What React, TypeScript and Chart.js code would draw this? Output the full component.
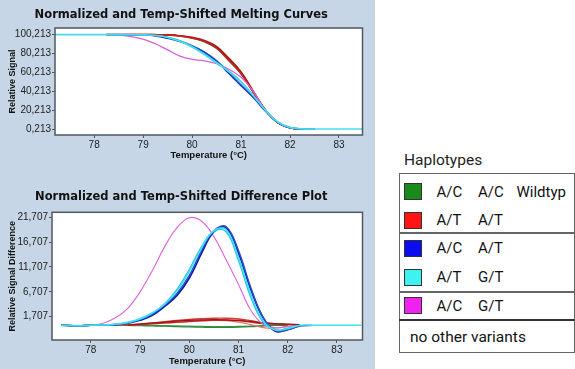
import React, { useEffect, useRef } from 'react';
import { Chart, registerables } from 'chart.js';
Chart.register(...registerables);

// ---------- Melting curves (top) ----------
const meltTemps = [77.2, 77.6, 78.0, 78.25, 78.5, 78.75, 79.0, 79.25, 79.5, 79.75, 80.0, 80.25, 80.5, 80.75, 81.0, 81.25, 81.5, 81.75, 82.0, 82.25, 82.5, 83.0, 83.5];
const meltGreen1 = [null, null, null, 100.2, 100.2, 100.2, 100.2, 100.0, 99.6, 98.6, 96.4, 92.6, 85.5, 72.5, 58.5, 38.8, 19.8, 6.8, 1.5, 0.4, 0.25, null, null];
const meltGreen2 = [null, null, null, null, 100.2, 100.3, 100.3, 100.1, 99.7, 98.8, 96.8, 93.2, 86.4, 73.6, 59.5, 39.6, 20.2, 7.0, 1.5, 0.4, 0.25, null, null];
const meltRed1 = [null, null, null, 100.2, 100.2, 100.3, 100.3, 100.1, 99.8, 98.8, 96.6, 93.0, 86.0, 73.0, 59.0, 39.0, 20.0, 7.0, 1.5, 0.4, 0.25, null, null];
const meltRed2 = [null, null, null, null, null, 100.2, 100.3, 100.3, 100.0, 99.2, 97.4, 94.2, 87.8, 75.5, 61.0, 40.5, 20.5, 7.0, 1.4, 0.4, 0.25, null, null];
const meltDarkRed = [null, null, null, 100.2, 100.3, 100.4, 100.3, 100.2, 99.9, 99.0, 97.0, 93.6, 87.0, 74.5, 60.0, 40.0, 20.2, 7.0, 1.5, 0.4, 0.25, null, null];
const meltBlue1 = [null, null, null, 100.2, 100.2, 100.1, 99.8, 98.8, 96.2, 92.8, 88.0, 81.5, 72.0, 59.0, 46.0, 33.5, 19.0, 7.0, 1.5, 0.4, 0.25, null, null];
const meltBlue2 = [null, null, null, 100.2, 100.2, 100.2, 100.0, 99.2, 97.0, 93.5, 88.6, 82.0, 72.8, 60.2, 47.2, 34.2, 19.4, 7.2, 1.6, 0.4, 0.25, null, null];
const meltCyan1 = [100.2, 100.2, 100.2, 100.2, 100.2, 100.1, 99.9, 99.2, 97.2, 93.2, 87.0, 79.0, 70.0, 61.0, 50.0, 35.5, 20.0, 7.5, 1.8, 0.5, 0.25, 0.213, 0.213];
const meltCyan2 = [null, null, null, 100.2, 100.2, 100.2, 100.0, 99.4, 97.6, 93.8, 87.8, 79.8, 70.8, 61.6, 50.4, 35.8, 20.2, 7.5, 1.8, 0.5, 0.25, null, null];
const meltMagenta = [null, null, null, 100.2, 99.6, 98.0, 95.5, 90.5, 84.0, 77.5, 74.0, 72.5, 69.5, 63.5, 55.0, 40.0, 20.0, 7.5, 1.8, 0.5, 0.25, null, null];
const meltYTicks = [0.213, 20.213, 40.213, 60.213, 80.213, 100.213];
const meltYLabels = ['0,213', '20,213', '40,213', '60,213', '80,213', '100,213'];

// ---------- Difference plot (bottom) ----------
const diffTemps = [77.4, 77.75, 78.0, 78.25, 78.5, 78.75, 79.0, 79.25, 79.5, 79.75, 80.0, 80.25, 80.5, 80.75, 81.0, 81.25, 81.5, 81.75, 82.0, 82.25, 82.5, 83.0, 83.5];
const diffGreen1 = [0, -0.1, 0, 0, 0, -0.05, -0.1, -0.15, -0.2, -0.3, -0.35, -0.4, -0.45, -0.45, -0.4, -0.3, -0.15, -0.05, 0, null, null, null, null];
const diffGreen2 = [null, null, null, null, null, 0, 0.0, -0.05, -0.1, -0.15, -0.2, -0.25, -0.3, -0.3, -0.25, -0.2, -0.1, 0, 0, null, null, null, null];
const diffRed1 = [0, -0.1, 0, 0, 0, 0.1, 0.25, 0.45, 0.7, 0.95, 1.15, 1.3, 1.4, 1.4, 1.25, 0.9, 0.5, 0.3, 0.15, 0, null, null, null];
const diffRed2 = [null, null, null, null, null, 0, 0.15, 0.3, 0.45, 0.6, 0.75, 0.9, 1.0, 1.0, 0.9, 0.6, 0.3, 0.2, 0.1, 0.05, null, null, null];
const diffRed3 = [null, null, null, null, null, 0, 0.1, 0.25, 0.4, 0.55, 0.7, 0.85, 0.95, 0.9, 0.6, 0.1, -0.5, -0.6, -0.2, null, null, null, null];
const diffDarkRed = [null, null, null, null, null, 0, 0.2, 0.4, 0.6, 0.8, 0.95, 1.05, 1.1, 1.05, 0.95, 0.7, 0.45, 0.3, 0.2, 0.1, null, null, null];
const diffBlue1 = [0, -0.15, 0, 0, 0.1, 0.4, 1.0, 2.0, 3.8, 6.0, 9.5, 14.5, 18.8, 19.6, 14.5, 7.2, 1.5, -1.2, -0.9, 0, null, null, null];
const diffBlue2 = [0, -0.1, 0, 0, 0.1, 0.5, 1.1, 2.2, 4.0, 6.4, 10.0, 15.0, 19.0, 19.8, 15.0, 7.6, 1.6, -1.1, -0.9, -0.2, 0, null, null];
const diffCyan1 = [0, -0.1, 0, 0.05, 0.2, 0.6, 1.3, 2.5, 4.2, 6.9, 10.8, 15.6, 19.0, 19.2, 13.6, 6.2, 0.9, -1.0, -0.7, 0, 0, 0, 0];
const diffCyan2 = [0, -0.1, 0, 0.05, 0.2, 0.5, 1.2, 2.4, 4.3, 7.2, 11.2, 15.8, 18.9, 18.8, 13.0, 5.6, 0.6, -0.9, -0.6, 0, null, null, null];
const diffMagenta = [0, -0.15, 0, 0.4, 1.5, 3.4, 6.7, 11.0, 15.8, 19.6, 21.6, 20.9, 17.8, 13.1, 8.2, 3.0, 0.2, -0.5, -0.3, 0, null, null, null];
const diffYTicks = [1.707, 6.707, 11.707, 16.707, 21.707];
const diffYLabels = ['1,707', '6,707', '11,707', '16,707', '21,707'];

const tempTicks = [78, 79, 80, 81, 82, 83];

// ---------- Legend ----------
const legendRows = [
  { color: '#1a8a1a', a: 'A/C', b: 'A/C', c: 'Wildtyp' },
  { color: '#ff1414', a: 'A/T', b: 'A/T', c: '' },
  { color: '#0c0cf0', a: 'A/C', b: 'A/T', c: '' },
  { color: '#3ef2f2', a: 'A/T', b: 'G/T', c: '' },
  { color: '#f022f0', a: 'A/C', b: 'G/T', c: '' },
];
const legendTitle = 'Haplotypes';
const legendFooter = 'no other variants';

type Series = { data: (number | null)[]; color: string; width: number };

const plotFrame = {
  id: 'plotFrame',
  beforeDraw(chart: any) {
    const { ctx, chartArea: a } = chart;
    ctx.save();
    ctx.fillStyle = '#ffffff';
    ctx.fillRect(a.left, a.top, a.right - a.left, a.bottom - a.top);
    ctx.restore();
  },
  afterDatasetsDraw(chart: any) {
    const { ctx, chartArea: a } = chart;
    ctx.save();
    ctx.strokeStyle = '#505860';
    ctx.lineWidth = 1.5;
    ctx.strokeRect(a.left, a.top, a.right - a.left, a.bottom - a.top);
    ctx.restore();
  },
};

function buildConfig(o: {
  temps: number[];
  series: Series[];
  xMin: number; xMax: number; yMin: number; yMax: number;
  yTicks: number[]; yLabels: string[];
  title: string; yTitle: string;
  yWidth: number; xHeight: number;
  titlePad: { top: number; bottom: number };
  xTitlePadBottom: number;
}): any {
  const tickFont = { family: '"Liberation Sans", Arial, sans-serif', size: 10 };
  return {
    type: 'line',
    data: {
      datasets: o.series.map((s) => ({
        data: o.temps.map((t, i) => ({ x: t, y: s.data[i] })),
        borderColor: s.color,
        borderWidth: s.width,
        pointRadius: 0,
        tension: 0.4,
        fill: false,
        spanGaps: false,
      })),
    },
    options: {
      responsive: false,
      animation: false,
      devicePixelRatio: 1,
      layout: { padding: { left: 0, right: 5.5, top: 0, bottom: 0 } },
      plugins: {
        legend: { display: false },
        tooltip: { enabled: false },
        title: {
          display: true,
          text: o.title,
          color: '#111',
          font: { family: '"DejaVu Sans", Verdana, sans-serif', weight: 'bold', size: 11.5 },
          padding: o.titlePad,
        },
      },
      scales: {
        x: {
          type: 'linear',
          min: o.xMin,
          max: o.xMax,
          afterBuildTicks: (s: any) => { s.ticks = tempTicks.map((v) => ({ value: v })); },
          afterFit: (s: any) => { s.height = o.xHeight; },
          ticks: { font: tickFont, color: '#222', padding: 1, maxRotation: 0, autoSkip: false, callback: (v: any) => String(v) },
          grid: { drawOnChartArea: false, drawTicks: true, tickLength: 3, tickColor: '#505860', color: '#505860' },
          border: { display: false },
          title: {
            display: true,
            text: 'Temperature (°C)',
            color: '#111',
            font: { family: '"Liberation Sans", Arial, sans-serif', weight: 'bold', size: 9.5 },
            padding: { top: 0, bottom: o.xTitlePadBottom },
          },
        },
        y: {
          type: 'linear',
          min: o.yMin,
          max: o.yMax,
          afterBuildTicks: (s: any) => { s.ticks = o.yTicks.map((v) => ({ value: v })); },
          afterFit: (s: any) => { s.width = o.yWidth; },
          ticks: {
            font: tickFont, color: '#222', padding: 1, autoSkip: false,
            callback: (v: any) => {
              const i = o.yTicks.findIndex((t) => Math.abs(t - v) < 1e-6);
              return i >= 0 ? o.yLabels[i] : '';
            },
          },
          grid: { drawOnChartArea: false, drawTicks: true, tickLength: 3, tickColor: '#505860', color: '#505860' },
          border: { display: false },
          title: {
            display: true,
            text: o.yTitle,
            color: '#111',
            font: { family: '"Liberation Sans", Arial, sans-serif', weight: 'bold', size: 9 },
            padding: { top: 7, bottom: 0 },
          },
        },
      },
    },
    plugins: [plotFrame],
  };
}

export default function App() {
  const topRef = useRef<HTMLCanvasElement>(null);
  const botRef = useRef<HTMLCanvasElement>(null);

  useEffect(() => {
    const top = new Chart(topRef.current as HTMLCanvasElement, buildConfig({
      temps: meltTemps,
      series: [
        { data: meltCyan1, color: '#46dcec', width: 1.6 },
        { data: meltCyan2, color: '#2cc8e4', width: 1.4 },
        { data: meltBlue1, color: '#1c3cc0', width: 1.5 },
        { data: meltBlue2, color: '#3a6ad8', width: 1.3 },
        { data: meltMagenta, color: '#d860d8', width: 1.3 },
        { data: meltRed1, color: '#e01818', width: 1.5 },
        { data: meltDarkRed, color: '#6a2a22', width: 1.2 },
        { data: meltRed2, color: '#c02020', width: 1.3 },
        { data: meltGreen1, color: '#2a7a3a', width: 1.3 },
        { data: meltGreen2, color: '#606060', width: 1.2 },
      ],
      xMin: 77.2, xMax: 83.48, yMin: -6.1, yMax: 107.2,
      yTicks: meltYTicks, yLabels: meltYLabels,
      title: 'Normalized and Temp-Shifted Melting Curves',
      yTitle: 'Relative Signal',
      yWidth: 55, xHeight: 35,
      titlePad: { top: 8.1, bottom: 6.1 },
      xTitlePadBottom: 9.3,
    }));
    const bot = new Chart(botRef.current as HTMLCanvasElement, buildConfig({
      temps: diffTemps,
      series: [
        { data: diffCyan1, color: '#40e0ee', width: 1.5 },
        { data: diffCyan2, color: '#28c4e6', width: 1.4 },
        { data: diffBlue2, color: '#2850d0', width: 1.4 },
        { data: diffBlue1, color: '#0c1ea8', width: 1.8 },
        { data: diffMagenta, color: '#dc64dc', width: 1.1 },
        { data: diffDarkRed, color: '#8a1c1c', width: 1.3 },
        { data: diffRed1, color: '#e83030', width: 1.4 },
        { data: diffRed2, color: '#d02020', width: 1.3 },
        { data: diffRed3, color: '#f07060', width: 1.2 },
        { data: diffGreen1, color: '#2a8a3a', width: 1.3 },
        { data: diffGreen2, color: '#3a9a4a', width: 1.2 },
      ],
      xMin: 77.21, xMax: 83.52, yMin: -2.98, yMax: 22.7,
      yTicks: diffYTicks, yLabels: diffYLabels,
      title: 'Normalized and Temp-Shifted Difference Plot',
      yTitle: 'Relative Signal Difference',
      yWidth: 52, xHeight: 29,
      titlePad: { top: 9.8, bottom: 8.7 },
      xTitlePadBottom: 2.3,
    }));
    return () => { top.destroy(); bot.destroy(); };
  }, []);

  const rowIdx = [0, 1, 2, 3, 4];
  const rowCenters = [191.7, 220, 248.3, 277.3, 305.7];
  const legendFont = 'Roboto, "Noto Sans", Arial, sans-serif';

  return (
    <div style={{ position: 'absolute', left: 0, top: 0, width: 575, height: 369, background: '#ffffff', overflow: 'hidden', fontFamily: legendFont }}>
      <div style={{ position: 'absolute', left: 0, top: 0, width: 375, height: 369, background: '#c6d6e6' }} />
      <canvas ref={topRef} width={368} height={170} style={{ position: 'absolute', left: 0, top: 0, width: 368, height: 170 }} />
      <canvas ref={botRef} width={368} height={189} style={{ position: 'absolute', left: 0, top: 180, width: 368, height: 189 }} />
      <div style={{ position: 'absolute', left: 404, top: 150, fontSize: 15.5, color: '#222', lineHeight: '20px' }}>{legendTitle}</div>
      <div style={{ position: 'absolute', left: 399, top: 173, width: 176, height: 180, border: '1px solid #666', boxSizing: 'border-box' }} />
      <div style={{ position: 'absolute', left: 399, top: 232, width: 176, height: 1.5, background: '#666' }} />
      <div style={{ position: 'absolute', left: 399, top: 291, width: 176, height: 1.5, background: '#666' }} />
      <div style={{ position: 'absolute', left: 399, top: 319, width: 176, height: 2, background: '#333' }} />
      {rowIdx.map((i) => {
        const r = legendRows[i];
        const cy = rowCenters[i];
        return (
          <React.Fragment key={i}>
            <div style={{ position: 'absolute', left: 404, top: cy - 8.5, width: 18, height: 17, background: r.color, border: '1px solid #333', boxSizing: 'border-box' }} />
            <div style={{ position: 'absolute', left: 436.5, top: cy - 10, fontSize: 15, lineHeight: '20px', color: '#111' }}>{r.a}</div>
            <div style={{ position: 'absolute', left: 478, top: cy - 10, fontSize: 15, lineHeight: '20px', color: '#111' }}>{r.b}</div>
            {r.c ? <div style={{ position: 'absolute', left: 516.5, top: cy - 10, fontSize: 15, lineHeight: '20px', color: '#111' }}>{r.c}</div> : null}
          </React.Fragment>
        );
      })}
      <div style={{ position: 'absolute', left: 410, top: 326.7, fontSize: 15.5, lineHeight: '20px', color: '#111' }}>{legendFooter}</div>
    </div>
  );
}
